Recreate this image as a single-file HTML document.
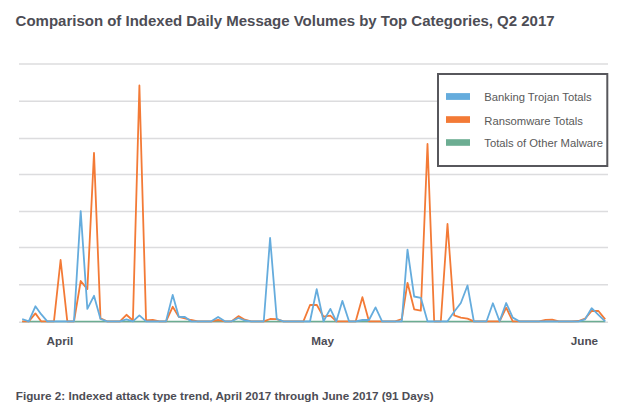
<!DOCTYPE html>
<html><head><meta charset="utf-8">
<style>
html,body{margin:0;padding:0;background:#fff;}
body{width:631px;height:413px;overflow:hidden;position:relative;}
svg{position:absolute;left:0;top:0;}
text{font-family:"Liberation Sans",sans-serif;}
</style></head><body>
<svg width="631" height="413" viewBox="0 0 631 413">
<rect x="0" y="0" width="631" height="413" fill="#fff"/>
<text x="15.6" y="25.5" font-size="15" textLength="539" font-weight="bold" fill="#4d4d55">Comparison of Indexed Daily Message Volumes by Top Categories, Q2 2017</text>
<g stroke="#dcdcde" stroke-width="1.5" fill="none">
<line x1="19" y1="64.00" x2="608" y2="64.00"/><line x1="19" y1="101.30" x2="608" y2="101.30"/><line x1="19" y1="138.40" x2="608" y2="138.40"/><line x1="19" y1="174.45" x2="608" y2="174.45"/><line x1="19" y1="211.60" x2="608" y2="211.60"/><line x1="19" y1="247.45" x2="608" y2="247.45"/><line x1="19" y1="284.80" x2="608" y2="284.80"/><line x1="19" y1="322.20" x2="608" y2="322.20"/>
</g>
<g fill="none" stroke-width="1.8" stroke-linejoin="round" stroke-linecap="butt">
<polyline stroke="#6cad92" stroke-width="1.3" points="22.20,321.50 28.80,321.50 35.40,321.50 41.10,321.50 47.30,321.50 53.95,321.50 60.60,321.50 67.30,321.50 74.00,321.50 80.70,321.50 87.35,321.50 94.00,321.50 100.49,321.50 106.97,321.50 113.46,321.50 119.94,321.50 126.43,321.50 132.91,321.50 139.40,321.50 146.06,321.50 152.72,321.50 159.38,321.50 166.04,321.50 172.70,321.50 178.80,321.50 184.90,321.50 191.00,321.50 197.78,321.50 204.56,321.50 211.34,321.50 218.11,321.50 224.89,321.50 231.67,321.50 238.45,321.50 244.78,321.50 251.11,321.50 257.44,321.50 263.77,321.50 270.10,321.50 276.76,321.50 283.41,321.50 290.07,321.50 296.73,321.50 303.39,321.50 310.04,321.50 316.70,321.50 323.52,321.50 330.35,321.50 336.35,321.50 342.35,321.50 349.03,321.50 355.72,321.50 362.40,321.50 368.97,321.50 375.53,321.50 382.10,321.50 388.67,321.50 395.23,321.50 401.80,321.50 407.50,321.50 414.17,321.50 420.83,321.50 427.50,321.50 434.17,321.50 440.83,321.50 447.50,321.50 454.17,321.50 460.83,321.50 467.50,321.50 473.85,321.50 480.20,321.50 486.55,321.50 492.90,321.50 499.60,321.50 506.18,321.50 512.75,321.50 519.32,321.50 525.90,321.50 532.47,321.50 539.05,321.50 545.62,321.50 552.20,321.50 558.77,321.50 565.35,321.50 571.92,321.50 578.50,321.50 585.08,321.50 591.65,321.50 598.43,321.50 605.20,321.50"/>
<polyline stroke="#f37a36" points="22.20,321.30 28.80,321.30 35.40,313.40 41.10,321.30 47.30,321.30 53.95,321.30 60.60,260.00 67.30,321.30 74.00,321.30 80.70,281.00 87.35,289.10 94.00,152.90 100.49,318.30 106.97,321.30 113.46,321.30 119.94,321.30 126.43,314.80 132.91,320.50 139.40,85.50 146.06,320.50 152.72,319.80 159.38,321.30 166.04,321.30 172.70,306.80 178.80,316.90 184.90,318.30 191.00,320.00 197.78,321.30 204.56,321.30 211.34,321.30 218.11,320.00 224.89,321.30 231.67,321.30 238.45,316.10 244.78,319.70 251.11,321.30 257.44,321.30 263.77,321.30 270.10,319.00 276.76,319.20 283.41,321.30 290.07,321.30 296.73,321.30 303.39,321.30 310.04,305.00 316.70,304.80 323.52,316.70 330.35,315.70 336.35,321.30 342.35,321.30 349.03,321.30 355.72,321.30 362.40,297.20 368.97,321.30 375.53,321.30 382.10,321.30 388.67,321.30 395.23,321.30 401.80,319.00 407.50,282.80 414.17,309.30 420.83,310.70 427.50,144.00 434.17,321.30 440.83,321.30 447.50,224.00 454.17,315.40 460.83,317.60 467.50,318.60 473.85,321.30 480.20,321.30 486.55,321.30 492.90,321.30 499.60,321.30 506.18,307.70 512.75,321.30 519.32,321.30 525.90,321.30 532.47,321.30 539.05,321.30 545.62,319.80 552.20,319.70 558.77,321.30 565.35,321.30 571.92,321.30 578.50,321.00 585.08,318.60 591.65,310.90 598.43,311.00 605.20,319.40"/>
<polyline stroke="#65acdd" points="22.20,319.00 28.80,321.30 35.40,306.30 41.10,314.20 47.30,321.30 53.95,321.30 60.60,321.30 67.30,321.30 74.00,321.30 80.70,211.10 87.35,308.90 94.00,295.80 100.49,319.00 106.97,321.30 113.46,321.30 119.94,321.30 126.43,319.40 132.91,321.30 139.40,315.40 146.06,321.30 152.72,321.30 159.38,321.30 166.04,321.30 172.70,294.90 178.80,316.80 184.90,317.00 191.00,321.30 197.78,321.30 204.56,321.30 211.34,321.30 218.11,316.90 224.89,321.30 231.67,321.30 238.45,318.00 244.78,320.50 251.11,321.30 257.44,321.30 263.77,321.30 270.10,238.00 276.76,319.00 283.41,321.30 290.07,321.30 296.73,321.30 303.39,321.30 310.04,321.30 316.70,289.20 323.52,321.30 330.35,308.90 336.35,321.30 342.35,300.90 349.03,321.30 355.72,321.30 362.40,320.00 368.97,320.00 375.53,307.40 382.10,321.30 388.67,321.30 395.23,321.30 401.80,321.30 407.50,249.60 414.17,296.50 420.83,297.80 427.50,321.30 434.17,321.30 440.83,321.30 447.50,321.30 454.17,311.80 460.83,303.00 467.50,285.50 473.85,321.30 480.20,321.30 486.55,321.30 492.90,303.30 499.60,321.30 506.18,303.00 512.75,317.60 519.32,321.30 525.90,321.30 532.47,321.30 539.05,321.30 545.62,321.30 552.20,321.30 558.77,321.30 565.35,321.30 571.92,321.30 578.50,321.30 585.08,319.30 591.65,308.20 598.43,314.80 605.20,321.30"/>
</g>
<rect x="438" y="74" width="169.3" height="92" fill="#fff" stroke="#57575c" stroke-width="2"/>
<rect x="446" y="93.1" width="24" height="6.8" fill="#65acdd"/>
<rect x="446" y="116.2" width="24" height="6.7" fill="#f37a36"/>
<rect x="446" y="139.2" width="24" height="6.6" fill="#6cad92"/>
<g font-size="11.25" fill="#595959">
<text x="484.3" y="100.8">Banking Trojan Totals</text>
<text x="484.3" y="124.9">Ransomware Totals</text>
<text x="484.3" y="146.8">Totals of Other Malware</text>
</g>
<g font-size="11.7" font-weight="bold" fill="#4d4d55">
<text x="46.6" y="344.7">April</text>
<text x="311.2" y="344.7">May</text>
<text x="570.8" y="344.7">June</text>
</g>
<text x="15.8" y="399.5" font-size="11.7" font-weight="bold" fill="#4d4d55">Figure 2: Indexed attack type trend, April 2017 through June 2017 (91 Days)</text>
</svg>
</body></html>
